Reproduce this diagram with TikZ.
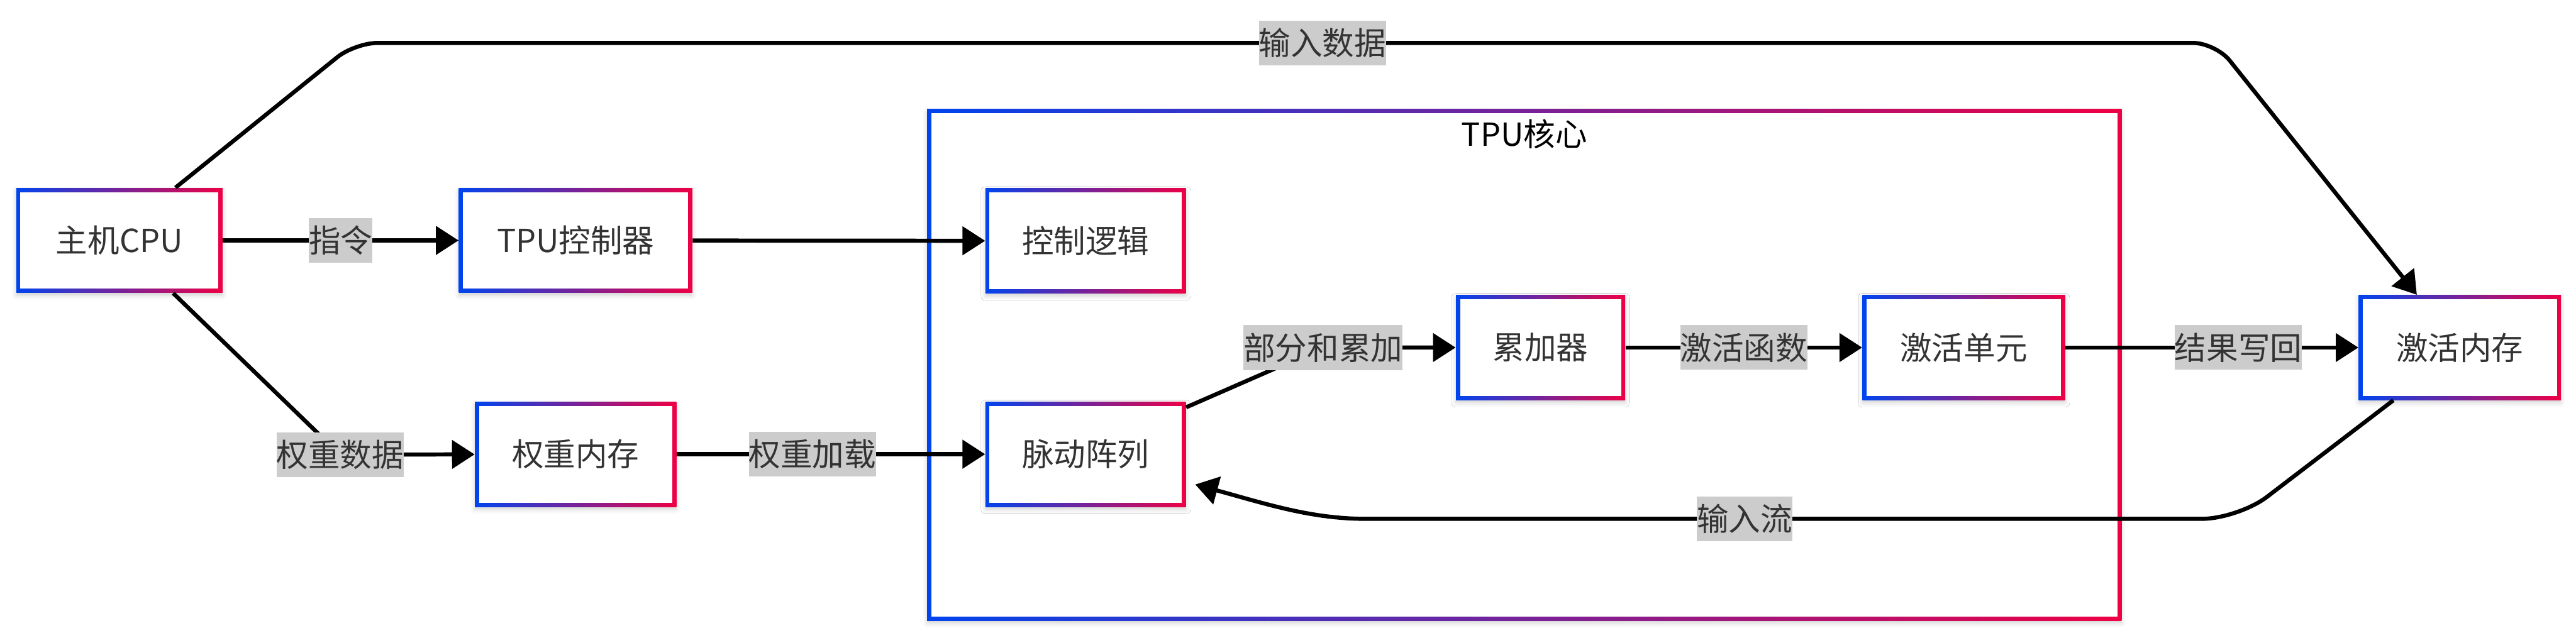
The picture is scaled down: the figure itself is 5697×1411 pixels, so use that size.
\documentclass[tikz,border=0pt]{standalone}
\usepackage{fontspec}
\newfontfamily\cjk{Noto Sans CJK SC}
\usetikzlibrary{arrows.meta,shadows.blur}

\definecolor{edgeblue}{HTML}{0044EE}
\definecolor{edgered}{HTML}{EE0044}
\definecolor{tagfill}{HTML}{CCCCCC}
\definecolor{inkgray}{HTML}{333333}

\tikzset{
    unit/.style={left color=edgeblue, right color=edgered, text=inkgray,
        font=\cjk\fontsize{20}{24}\selectfont, inner sep=0pt,
        minimum width=4.45cm, minimum height=2.32cm,
        blur shadow={shadow xshift=0pt, shadow yshift=-0.06cm,
            shadow blur radius=0.1cm, shadow opacity=18},
        path picture={\fill[white]
            ([shift={(0.09cm,0.09cm)}]path picture bounding box.south west) rectangle
            ([shift={(-0.09cm,-0.09cm)}]path picture bounding box.north east);}},
    tag/.style={sharp corners, fill=tagfill, text=inkgray,
        font=\cjk\fontsize{20}{24}\selectfont,
        inner xsep=0pt, inner ysep=0.17cm},
    flow/.style={draw=black, line width=0.09cm,
        -{Triangle[length=0.5cm,width=0.62cm]}}
}

\begin{document}
\begin{tikzpicture}[x=0.01cm,y=-0.01cm]
    \useasboundingbox (0,0) rectangle (5697,1411);

    % TPU core frame
    \node[unit, minimum width=26.40cm, minimum height=11.31cm] (core) at (3371,807) {};
    \node[font=\cjk\fontsize{20}{24}\selectfont] (coretitle) at (3371,297) {TPU核心};

    % Host side
    \node[unit, minimum width=4.56cm] (cpu) at (264,532) {主机CPU};
    \node[unit, minimum width=5.16cm] (ctrl) at (1273,532) {TPU控制器};
    \node[unit] (wmem) at (1273,1005) {权重内存};

    % Inside the core
    \node[unit, minimum width=4.43cm] (logic) at (2401,533) {控制逻辑};
    \node[unit, minimum width=4.43cm] (sys) at (2401,1005) {脉动阵列};
    \node[unit, minimum width=3.74cm] (acc) at (3407,769) {累加器};
    \node[unit, minimum width=4.48cm] (actu) at (4343,769) {激活单元};

    % Activation memory
    \node[unit, minimum width=4.47cm] (actm) at (5440,769) {激活内存};

    % Control path
    \draw[flow] (cpu) -- node[tag] {指令} (ctrl);
    \draw[flow] (ctrl) -- (logic);

    % Weights
    \draw[flow] ([xshift=1.19cm]cpu.south) -- (752,1006) node[tag] {权重数据} -- (wmem);
    \draw[flow] (wmem) -- node[tag, pos=0.44] {权重加载} (sys);

    % Data through the core
    \draw[flow] ([yshift=-0.13cm]sys.north east) -- (2926,769) node[tag] {部分和累加} -- (acc);
    \draw[flow] (acc) -- node[tag] {激活函数} (actu);
    \draw[flow] (actu) -- node[tag, pos=0.59] {结果写回} (actm);

    % Input data over the top
    \draw[flow, rounded corners=0.5cm] ([xshift=1.24cm]cpu.north) -- (785,95)
        -- node[tag, pos=0.52] {输入数据} (4900,95) -- ([xshift=-0.95cm]actm.north);

    % Input stream back to the array
    \draw[flow, rounded corners=0.8cm] ([xshift=-1.47cm]actm.south) -- (4950,1148)
        -- node[tag, pos=0.59] {输入流} (3100,1148) [sharp corners]
        .. controls (2900,1148) and (2800,1115) .. ([xshift=0.2cm,yshift=-0.67cm]sys.east);
\end{tikzpicture}
\end{document}
